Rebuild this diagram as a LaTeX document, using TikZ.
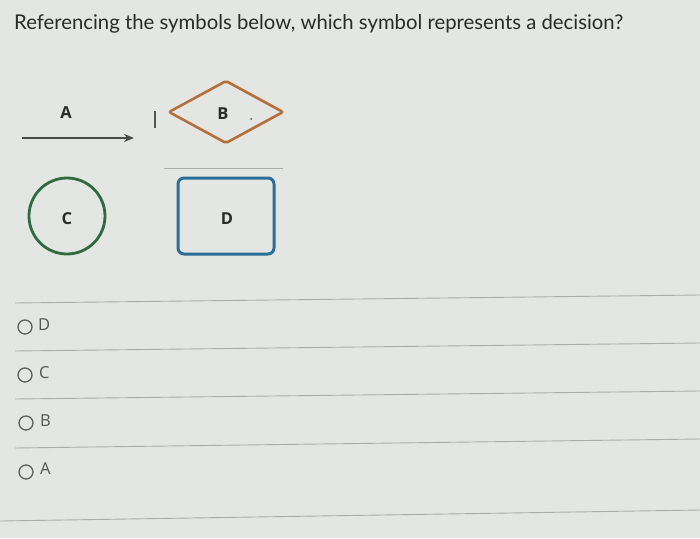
\documentclass[tikz,border=0pt]{standalone}
\usepackage{fontspec}
\setmainfont{Lato}
\newfontfamily\optfont{Open Sans}
\usetikzlibrary{shapes.geometric,arrows.meta}
\definecolor{bg}{HTML}{E3E6E3}
\definecolor{diam}{HTML}{B5703A}
\definecolor{circ}{HTML}{2F6A40}
\definecolor{rectc}{HTML}{2C6F96}
\definecolor{rule}{HTML}{A9ACAA}
\definecolor{txt}{HTML}{2A2A2A}
\begin{document}
\begin{tikzpicture}[x=1pt,y=-1pt,
  lbl/.style={font=\optfont\bfseries\fontsize{16.5}{18}\selectfont, text=txt},
  opt/.style={font=\optfont\fontsize{16.5}{18}\selectfont, text=txt!80, anchor=west, inner sep=0pt},
  radio/.style={draw=txt!75, line width=1.3pt, circle, minimum size=14pt, inner sep=0pt},
  sep/.style={draw=rule, line width=0.9pt}]
\fill[bg] (0,0) rectangle (700,538);
\useasboundingbox (0,0) rectangle (700,538);
% title
\node[anchor=west, inner sep=0pt, font=\fontsize{20.3}{23}\selectfont, text=txt] (title) at (14,24)
  {Referencing the symbols below, which symbol represents a decision?};
% A arrow
\node[lbl] (A) at (66,113) {A};
\coordinate (a0) at (22,138);
\coordinate (a1) at (134,138);
\draw[txt!85, line width=1.4pt, -{Stealth[length=10pt,width=8pt]}] (a0) -- (a1);
% short bar
\coordinate (bar0) at (155,111);
\coordinate (bar1) at (155,128);
\draw[txt!80, line width=1.3pt] (bar0) -- (bar1);
% diamond B
\node[diamond, draw=diam, line width=2.6pt, minimum width=115pt, minimum height=63pt, inner sep=0pt, aspect=1.8,
  rounded corners=2pt] (B) at (226,112) {};
\node[lbl] (Bl) at (223,114) {B};
\fill[txt!80] (251,119) circle (1pt);
% separator under diamond
\coordinate (s0) at (164,168);
\coordinate (s1) at (283,168);
\draw[rule, line width=1pt] (s0) -- (s1);
% circle C
\node[circle, draw=circ, line width=2.8pt, minimum size=76pt, inner sep=0pt] (C) at (67,216) {};
\node[lbl] (Cl) at (67,219) {C};
% rect D
\node[draw=rectc, line width=3pt, rounded corners=6pt, minimum width=96pt, minimum height=76pt] (D) at (226,216) {};
\node[lbl] (Dl) at (227,219) {D};
% rules
\coordinate (r1a) at (15,303); \coordinate (r1b) at (700,295);
\coordinate (r2a) at (15,351); \coordinate (r2b) at (700,343);
\coordinate (r3a) at (15,399); \coordinate (r3b) at (700,391);
\coordinate (r4a) at (15,448); \coordinate (r4b) at (700,439);
\coordinate (r5a) at (0,521); \coordinate (r5b) at (700,510);
\draw[sep] (r1a) -- (r1b);
\draw[sep] (r2a) -- (r2b);
\draw[sep] (r3a) -- (r3b);
\draw[sep] (r4a) -- (r4b);
\draw[sep] (r5a) -- (r5b);
% options
\node[radio] (o1) at (25,327) {};
\node[opt] (t1) at (38,325) {D};
\node[radio] (o2) at (25,375) {};
\node[opt] (t2) at (39,373) {C};
\node[radio] (o3) at (26,423) {};
\node[opt] (t3) at (40,421) {B};
\node[radio] (o4) at (26,472) {};
\node[opt] (t4) at (40,469) {A};
\end{tikzpicture}
\end{document}
